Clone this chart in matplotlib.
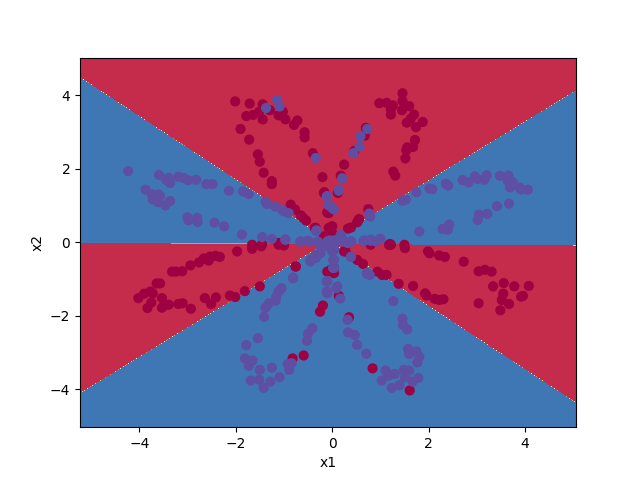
import numpy as np
import matplotlib
matplotlib.use("Agg")
import matplotlib.pyplot as plt

class0_points = [
(-2.01,3.83),(-1.71,3.77),(-1.44,3.75),(-1.78,3.43),(-1.64,3.46),(-1.52,3.54),(-1.44,3.34),(-1.29,3.59),
(-1.02,3.55),(-1.11,3.45),(-0.97,3.34),(-0.72,3.31),(-0.79,3.19),(-1.90,3.08),(-1.72,2.79),(-0.57,2.99),
(-0.57,2.85),(-1.54,2.39),(-1.50,2.19),(-1.42,1.89),(-1.25,1.66),(-1.25,1.58),(-0.40,2.42),(-0.20,1.77),
(-0.16,1.36),(-0.86,1.02),(-0.77,0.89),(-0.65,0.73),(-0.60,0.66),(-0.54,0.59),(-0.36,0.39),(-0.10,0.81),
(-0.07,0.39),(-0.12,0.11),(-1.11,-0.02),(-1.45,-0.05),(-1.66,-0.07),
(0.98,3.78),(1.13,3.79),(1.26,3.72),(1.46,4.05),(1.46,3.84),(1.60,3.70),(1.45,3.59),(1.22,3.61),(1.22,3.47),
(1.70,3.47),(1.63,3.36),(1.55,3.25),(1.88,3.27),(1.74,3.13),(1.72,2.78),(1.68,2.59),(1.56,2.58),(1.54,2.50),
(1.52,2.28),(1.27,1.92),(1.31,1.81),(0.70,3.11),(0.68,2.90),(0.46,2.48),(0.25,2.11),(0.18,1.81),(0.12,1.34),
(0.75,0.90),(0.56,0.63),(0.52,0.54),(0.39,0.40),(0.33,0.37),(0.00,0.43),(0.00,0.25),(1.20,-0.05),(1.50,-0.07),
(-4.02,-1.52),(-3.90,-1.40),(-3.77,-1.34),(-3.72,-1.39),(-3.75,-1.64),(-3.83,-1.79),(-3.53,-1.52),(-3.53,-1.78),
(-3.39,-1.70),(-3.19,-1.68),(-3.10,-1.66),(-2.93,-1.81),(-2.64,-1.52),(-2.51,-1.68),(-2.41,-1.50),(-2.12,-1.45),
(-2.01,-1.49),(-1.81,-1.33),(-1.50,-1.20),(-3.64,-1.12),(-3.57,-1.12),(-3.32,-0.80),(-3.24,-0.80),(-3.11,-0.79),
(-2.94,-0.63),(-2.76,-0.55),(-2.66,-0.44),(-2.56,-0.50),(-2.53,-0.39),(-2.42,-0.37),(-2.33,-0.40),(-1.97,-0.25),
(-1.66,-0.18),(-1.47,-0.11),(-1.11,-0.07),(-1.00,-0.09),(-0.75,-0.66),(-0.10,-0.80),(-0.19,-1.72),(-0.25,-1.89),
(-0.82,-3.16),(-0.59,-3.08),
(0.28,-0.25),(0.52,-0.48),(0.64,-0.59),(0.94,-0.80),(1.04,-0.89),(1.13,-0.89),(1.38,-1.13),(1.68,-1.19),
(1.93,-1.39),(1.96,-1.45),(2.13,-1.54),(2.22,-1.57),(2.31,-1.55),(1.99,-0.25),(2.02,-0.30),(2.22,-0.36),
(2.34,-0.40),(2.73,-0.53),(3.04,-0.79),(3.17,-0.75),(3.31,-0.80),(3.34,-1.20),(3.56,-1.11),(3.78,-1.20),
(4.08,-1.19),(3.55,-1.40),(3.52,-1.57),(3.67,-1.68),(3.92,-1.48),(3.96,-1.46),(3.04,-1.66),(3.49,-1.85),
(1.22,-0.07),(1.51,-0.16),(0.04,-0.84),(0.14,-1.46),(0.35,-2.04),(0.84,-3.43),(1.61,-4.03),(0.80,-0.07),
(-0.00,0.43),(-0.07,0.79),(-0.17,1.34),(-0.34,0.39),(-0.17,0.16),(-1.00,-0.07),(0.54,0.59),(0.25,-0.25),
(-0.76,-0.66),(-0.03,-0.75),(0.04,-0.70),(1.18,-0.07),
]

class1_points = [
(-1.14,3.87),(-1.37,3.65),(-1.09,3.69),(-0.34,2.29),(-4.23,1.93),(-3.59,1.83),(-3.44,1.69),(-3.39,1.75),
(-3.36,1.61),(-3.19,1.78),(-3.08,1.75),(-2.99,1.69),(-2.82,1.70),(-2.61,1.58),(-2.48,1.58),(-2.14,1.40),
(-1.85,1.38),(-1.73,1.31),(-1.38,1.10),(-1.35,1.04),(-1.18,0.97),(-1.04,0.89),(-0.90,0.79),(-3.87,1.43),
(-3.74,1.30),(-3.60,1.30),(-3.57,1.25),(-3.72,1.16),(-3.61,1.09),(-3.46,1.00),(-3.36,1.12),(-3.00,0.68),
(-2.98,0.60),(-2.80,0.66),(-2.79,0.55),(-2.44,0.53),(-2.24,0.43),(-1.87,0.21),(-1.45,0.14),(-1.25,0.09),
(-0.97,0.07),(-0.66,0.02),(-0.50,0.04),(-0.30,0.02),(-0.10,0.02),(-0.33,0.31),(-0.11,1.25),(-0.07,1.00),
(0.73,3.08),(0.59,2.88),(0.57,2.60),(0.44,2.42),(0.21,1.74),(0.14,1.43),(0.04,0.89),(0.79,0.70),(2.71,1.69),
(2.83,1.63),(2.96,1.79),(3.02,1.72),(3.16,1.70),(3.21,1.82),(3.48,1.81),(3.66,1.81),(3.64,1.68),(3.75,1.63),
(3.69,1.49),(3.89,1.49),(3.92,1.43),(4.06,1.43),(2.36,1.59),(2.41,1.54),(2.02,1.46),(2.08,1.44),(1.75,1.36),
(1.53,1.16),(1.46,1.13),(3.67,1.05),(3.42,0.98),(3.22,0.77),(3.05,0.75),(3.02,0.61),(2.43,0.48),(2.29,0.36),
(2.40,0.34),(1.81,0.29),(0.18,0.19),(0.28,0.02),(0.40,0.02),(0.65,0.02),(0.80,0.04),(1.00,0.09),(0.91,0.02),
(-0.81,-0.96),(-1.05,-1.25),(-1.11,-1.34),(-1.16,-1.48),(-1.17,-1.59),(-1.31,-1.66),(-1.38,-1.78),(-1.41,-2.03),
(-1.54,-2.61),(-1.78,-2.80),(-1.81,-3.16),(-1.65,-3.22),(-1.73,-3.36),(-1.50,-3.47),(-1.25,-3.41),(-0.92,-3.31),
(-0.84,-3.29),(-0.89,-3.47),(-1.09,-3.67),(-1.28,-3.79),(-1.51,-3.74),(-1.69,-3.76),(-1.42,-3.96),(-0.41,-2.34),
(-0.50,-2.49),(-0.52,-2.68),(-0.11,-1.07),(-0.11,-1.34),(-0.10,-1.39),(-0.45,-0.48),(-0.34,-0.34),(-0.24,-0.20),
(-0.14,-0.10),
(0.39,-0.40),(0.72,-0.84),(0.78,-0.89),(1.27,-1.60),(1.46,-2.08),(1.47,-2.25),(1.56,-2.37),(0.09,-1.25),
(0.17,-1.53),(0.32,-2.11),(0.33,-2.45),(0.47,-2.52),(0.52,-2.79),(0.71,-3.03),(1.58,-2.90),(1.60,-3.04),
(1.75,-2.97),(1.81,-3.11),(1.77,-3.27),(1.11,-3.49),(1.17,-3.63),(1.30,-3.58),(1.03,-3.76),(1.24,-3.96),
(1.40,-3.89),(1.49,-3.47),(1.60,-3.49),(1.51,-3.67),(1.67,-3.79),(1.79,-3.69),(0.04,-0.48),(0.02,-0.70),
(0.04,-0.21),(0.32,-0.02),
(-0.03,-0.02),(-0.10,-0.10),(-0.24,-0.30),(-0.34,-0.43),(-0.45,-0.52),(0.00,-0.25),(0.02,-0.48),(0.04,-0.70),
(-0.10,-1.07),(0.11,-1.20),(-0.10,1.25),(-0.03,0.98),(0.14,1.40),(0.00,0.93),(-0.32,0.32),(-0.97,0.07),
(-0.65,0.02),(-0.48,0.02),(-0.29,0.00),(0.18,0.19),(0.25,0.02),(0.39,0.02),(0.66,0.05),(0.80,0.07),(1.00,0.09),
(0.39,-0.40),(0.77,0.78),(0.73,-0.86),(-0.81,-0.98),(-1.00,0.84),(0.05,0.05),(-0.05,0.05),(0.05,-0.08),
]

# decision boundaries: y = slope * x + intercept
boundary_slopes = [-0.860, 0.800, -0.006]
boundary_intercepts = [-0.03, 0.06, -0.04]
grid_x_range = (-5.23, 5.07)
grid_y_range = (-5.03, 5.03)
grid_step = 0.01

xx, yy = np.meshgrid(np.arange(grid_x_range[0], grid_x_range[1], grid_step),
                     np.arange(grid_y_range[0], grid_y_range[1], grid_step))
sign = np.ones_like(xx)
for m, c in zip(boundary_slopes, boundary_intercepts):
    sign *= np.sign(yy - (m * xx + c))
Z = (sign < 0).astype(float)

plt.contourf(xx, yy, Z, cmap=plt.cm.Spectral)
plt.ylabel('x2')
plt.xlabel('x1')
pts = np.array(class0_points + class1_points)
labels = np.array([0] * len(class0_points) + [1] * len(class1_points))
plt.scatter(pts[:, 0], pts[:, 1], c=labels, s=40, cmap=plt.cm.Spectral)
plt.savefig('out.png', dpi=100)
